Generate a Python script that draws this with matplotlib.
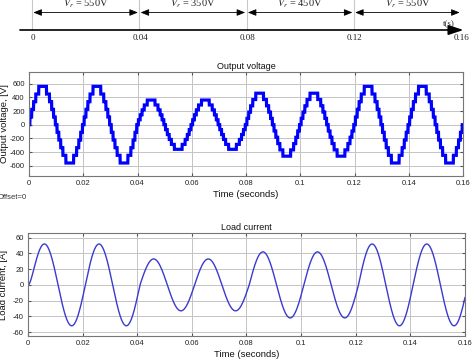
import numpy as np
import matplotlib
matplotlib.use("Agg")
import matplotlib.pyplot as plt

plt.rcParams['font.family'] = ['Liberation Sans', 'DejaVu Sans']
plt.rcParams['mathtext.fontset'] = 'stix'
plt.rcParams['axes.unicode_minus'] = False

# ---- data ----
seg_bounds = [0.0, 0.04, 0.08, 0.12, 0.16]
vr_labels = ["550V", "350V", "450V", "550V"]
timeline_ticks = [0, 0.04, 0.08, 0.12, 0.16]
timeline_ticklabels = ["0", "0.04", "0.08", "0.12", "0.16"]
volt_amp = [560, 360, 460, 560]                # staircase peak per segment [V]
curr_amp = [52, 33, 42, 52]                    # current peak per segment [A]
freq = 50.0                                    # Hz
n_levels = 5                                   # staircase steps per quarter wave
curr_lag = 0.001                               # current lag [s]
volt_ticks = [-600, -400, -200, 0, 200, 400, 600]
curr_ticks = [-60, -40, -20, 0, 20, 40, 60]
x_ticks = [0, 0.02, 0.04, 0.06, 0.08, 0.1, 0.12, 0.14, 0.16]
x_ticklabels = ["0", "0.02", "0.04", "0.06", "0.08", "0.1", "0.12", "0.14", "0.16"]

W, H = 474, 360
fig = plt.figure(figsize=(W / 100, H / 100), dpi=100)

def fpos(l, t, r, b):
    return [l / W, 1 - b / H, (r - l) / W, (b - t) / H]

# ---------- top timeline ----------
ax0 = fig.add_axes(fpos(32, 0, 461, 45))
ax0.set_xlim(0, 0.16)
ax0.set_ylim(45, 0)
ax0.axis('off')
for xb in seg_bounds[:-1]:
    ax0.plot([xb, xb], [0, 30], color='#c8c8c8', lw=0.8, clip_on=False)
ax0.annotate('', xy=(0.1609, 30), xytext=(-0.0045, 30),
             arrowprops=dict(arrowstyle='-|>,head_length=0.9,head_width=0.3', color='black', lw=1.2,
                             shrinkA=0, shrinkB=0), annotation_clip=False)
for i in range(4):
    a, b = seg_bounds[i], seg_bounds[i + 1]
    ax0.annotate('', xy=(b - 0.0005, 12.5), xytext=(a + 0.0005, 12.5),
                 arrowprops=dict(arrowstyle='<|-|>,head_length=0.5,head_width=0.2', color='black', lw=0.6,
                                 shrinkA=0, shrinkB=0), annotation_clip=False)
    ax0.text((a + b) / 2, 3.5, r"$V_r$ = " + vr_labels[i], ha='center', va='center',
             fontsize=7.5, family='Liberation Serif', color='#222222')
for xv, lab in zip(timeline_ticks, timeline_ticklabels):
    ax0.text(xv + 0.0003, 38.5, lab, ha='center', va='center', fontsize=6.5,
             family='Liberation Serif', color='#222222')
ax0.text(0.1555, 24.5, "t(s)", ha='center', va='center', fontsize=6.5,
         family='Liberation Serif', color='#222222')

# ---------- signals ----------
t = np.linspace(0, 0.16, 8001)
w = 2 * np.pi * freq
seg_v = np.clip(np.searchsorted(seg_bounds, t, side='right') - 1, 0, 3)
amp_v = np.array(volt_amp)[seg_v]
v = amp_v / n_levels * np.round(n_levels * np.sin(w * t))

phi = w * curr_lag
seg_i = np.clip(np.searchsorted(np.array(seg_bounds) + curr_lag, t, side='right') - 1, 0, 3)
i_load = np.array(curr_amp)[seg_i] * np.sin(w * t - phi) + curr_amp[0] * np.sin(phi) * np.exp(-t / curr_lag)

def style(ax, yticks, ylim, title, ylabel):
    ax.set_xlim(0, 0.16)
    ax.set_ylim(*ylim)
    ax.set_xticks(x_ticks)
    ax.set_xticklabels(x_ticklabels)
    ax.set_yticks(yticks)
    ax.grid(True, color='#c4c4c4', lw=0.7)
    ax.tick_params(direction='in', labelsize=5.5, length=2, colors='#555555', top=True, right=True,
                   labelcolor='#222222', pad=3)
    for s in ax.spines.values():
        s.set_color('#777777')
        s.set_linewidth(0.8)
    ax.set_title(title, fontsize=6.5, pad=2, color='#111111')
    ax.set_xlabel("Time (seconds)", fontsize=6.8, labelpad=2, color='#111111')
    ax.set_ylabel(ylabel, fontsize=6.8, color='#111111')
    ax.yaxis.set_label_coords(-19.5 / 434, 0.5)

ax1 = fig.add_axes(fpos(29, 72, 463, 176))
ax1.plot(t, v, color='#0000ff', lw=2.3, solid_joinstyle='miter')
style(ax1, volt_ticks, (-750, 770), "Output voltage", "Output voltage, [V]")
fig.text(-2 / W, 1 - 197 / H, "Offset=0", fontsize=5.5, va='center', ha='left', color='#333333')

ax2 = fig.add_axes(fpos(28, 233, 465, 336))
ax2.plot(t, i_load, color='#3a3ad0', lw=1.0)
style(ax2, curr_ticks, (-65, 66), "Load current", "Load current, [A]")

fig.savefig("out.png", dpi=100)
